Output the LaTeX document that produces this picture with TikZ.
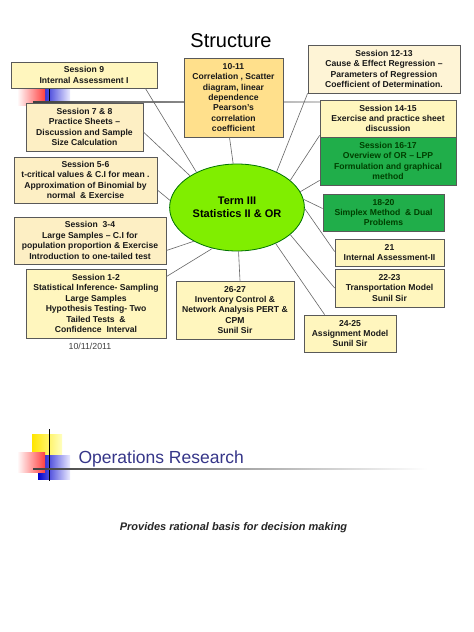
\documentclass[tikz,border=0pt]{standalone}
\usepackage{fontspec}
\setmainfont{Liberation Sans}
\usepackage{xcolor}
\usetikzlibrary{shapes.geometric, positioning}

\definecolor{paleyel}{HTML}{FFF6BE}
\definecolor{creamyel}{HTML}{FDEFC4}
\definecolor{goldyel}{HTML}{FFE08C}
\definecolor{sessgreen}{HTML}{20AE4A}
\definecolor{termgreen}{HTML}{80EE00}
\definecolor{ortitle}{HTML}{363689}

\begin{document}
\begin{tikzpicture}[
    x=1pt, y=-1pt,
    box/.style={draw=black!65, line width=0.8pt, fill=#1, align=center, inner sep=1pt,
                font=\fontsize{8.6}{10.4}\selectfont\bfseries, text=black!90},
    box/.default=paleyel,
    greenbox/.style={box=sessgreen, text=green!25!black},
    link/.style={draw=black!60, line width=0.6pt},
    hub/.style={ellipse, draw=green!45!black, line width=0.8pt, fill=termgreen,
                minimum width=114pt, minimum height=87pt, align=center,
                font=\fontsize{11}{13}\selectfont\bfseries}
]
\useasboundingbox (0,0) rectangle (474,632);
\fill[white] (0,0) rectangle (474,632);

% slide decoration (top one mostly hidden behind the boxes)
\foreach \dy in {-367,0} {
  \begin{scope}[yshift=-\dy pt]
    \shade[left color=yellow!80!orange, right color=yellow!25] (32,434) rectangle (62,456);
    \shade[left color=blue!80!black, right color=blue!8] (38,455) rectangle (70,479);
    \shade[left color=white, right color=red!75] (17,452) rectangle (45,472);
    \draw[black, line width=1pt] (49,429) -- (49,481);
    \shade[left color=black!75, right color=white] (33,468.4) rectangle (427,469.6);
  \end{scope}
}

% Title
\node[anchor=base, font=\fontsize{20}{24}\selectfont] (title) at (231,47) {Structure};

% Centre
\node[hub] (term) at (237,207.5) {Term III\\Statistics II \& OR};

% Left side sessions
\node[box, minimum width=146pt, minimum height=26pt] (s9) at (84,75)
  {Session 9\\Internal Assessment I};
\node[box=creamyel, minimum width=117pt, minimum height=48pt] (s78) at (84.5,127)
  {Session 7 \& 8\\Practice Sheets --\\Discussion and Sample\\Size Calculation};
\node[box=creamyel, minimum width=143pt, minimum height=46pt] (s56) at (85.5,180)
  {Session 5-6\\t-critical values \& C.I for mean .\\Approximation of Binomial by\\normal \ \& Exercise};
\node[box=creamyel, minimum width=152pt, minimum height=47pt] (s34) at (90,240.5)
  {Session \ 3-4\\Large Samples -- C.I for\\population proportion \& Exercise\\Introduction to one-tailed test};
\node[box, minimum width=140pt, minimum height=69pt] (s12) at (96,303.5)
  {Session 1-2\\Statistical Inference- Sampling\\Large Samples\\Hypothesis Testing- Two\\Tailed Tests \ \&\\Confidence \ Interval};

% Top and bottom
\node[box=goldyel, minimum width=99pt, minimum height=79pt] (s1011) at (233.5,97.5)
  {10-11\\Correlation , Scatter\\diagram, linear\\dependence\\Pearson's\\correlation\\coefficient};
\node[box, minimum width=118pt, minimum height=58pt] (s2627) at (235,310)
  {26-27\\Inventory Control \&\\Network Analysis PERT \&\\CPM\\Sunil Sir};

% Right side sessions
\node[box=creamyel!70!white, minimum width=152pt, minimum height=48pt] (s1213) at (384,69)
  {Session 12-13\\Cause \& Effect Regression --\\Parameters of Regression\\Coefficient of Determination.};
\node[box, minimum width=136pt, minimum height=37pt] (s1415) at (388,118.5)
  {Session 14-15\\Exercise and practice sheet\\discussion};
\node[greenbox, minimum width=136pt, minimum height=48pt] (s1617) at (388,161)
  {Session 16-17\\Overview of OR -- LPP\\Formulation and graphical\\method};
\node[greenbox, minimum width=121pt, minimum height=37pt] (s1820) at (383.5,212.5)
  {18-20\\Simplex Method \ \& Dual\\Problems};
\node[box, minimum width=109pt, minimum height=27pt] (s21) at (389.5,252.5)
  {21\\Internal Assessment-II};
\node[box, minimum width=109pt, minimum height=38pt] (s2223) at (389.5,288)
  {22-23\\Transportation Model\\Sunil Sir};
\node[box, minimum width=92pt, minimum height=37pt] (s2425) at (350,333.5)
  {24-25\\Assignment Model\\Sunil Sir};

% Links
\draw[link] (term.139) -- ([xshift=-12pt]s9.south east);
\draw[link] (term.146) -- ([yshift=-5pt]s78.east);
\draw[link] (term.174) -- ([yshift=-10pt]s56.east);
\draw[link] (term.218) -- ([yshift=-10pt]s34.east);
\draw[link] (term.239) -- ([yshift=-8pt]s12.north east);
\draw[link] (term.95) -- ([xshift=-4pt]s1011.south);
\draw[link] (term.272) -- ([xshift=5pt]s2627.north);
\draw[link] (term.42) -- (s1213.south west);
\draw[link] (term.27) -- ([yshift=2pt]s1415.south west);
\draw[link] (term.14) -- ([yshift=5pt]s1617.south west);
\draw[link] (term.7) -- ([yshift=4pt]s1820.west);
\draw[link] (term.359) -- ([yshift=1pt]s21.west);
\draw[link] (term.333) -- (s2223.west);
\draw[link] (term.317) -- ([xshift=21pt]s2425.north west);

% Date
\node[font=\fontsize{8.8}{10}\selectfont, text=black!75] (date) at (90,346) {10/11/2011};

% Second slide
\node[anchor=base west, font=\fontsize{17.5}{21}\selectfont, text=ortitle] (ortext) at (75,463)
  {Operations Research};
\node[font=\fontsize{11}{13}\selectfont\bfseries\itshape, text=black!85] (basis) at (233.5,528)
  {Provides rational basis for decision making};
\end{tikzpicture}
\end{document}
